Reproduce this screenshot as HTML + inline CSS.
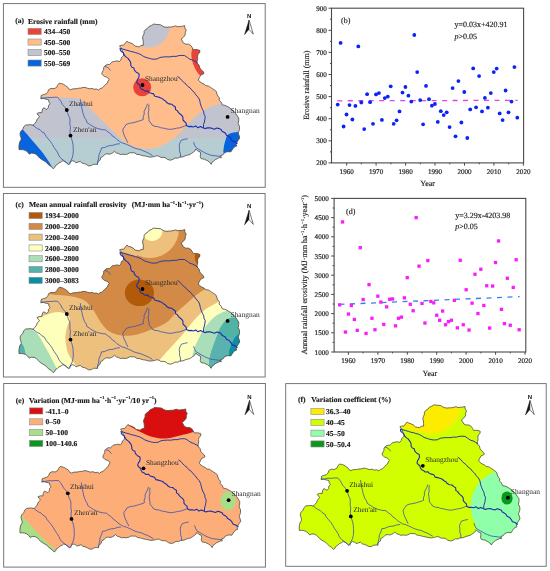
<!DOCTYPE html>
<html lang="en"><head><meta charset="utf-8"><title>Rainfall erosivity figure</title>
<style>
html,body{margin:0;padding:0;background:#fff}
svg{display:block}
text{font-family:"Liberation Serif","Times New Roman",serif;fill:#1a1a1a;text-rendering:geometricPrecision}
.city{font-size:7.4px;fill:#2a2a2a}
.leg{font-size:7.5px;font-weight:bold;stroke:#1a1a1a;stroke-width:0.15px}
.ttl{font-size:7.55px;font-weight:bold;stroke:#1a1a1a;stroke-width:0.15px}
.sup{font-size:4.5px}
.tk{font-size:7.1px;stroke:#1a1a1a;stroke-width:0.18px}
.ax{font-size:8px;stroke:#1a1a1a;stroke-width:0.15px}
.nn{font-family:"Liberation Sans",Arial,sans-serif;font-size:6px;font-weight:bold;fill:#111}
</style></head><body>
<svg width="550" height="571" viewBox="0 0 550 571">
<defs><path id="ol" d="M19.1 149.7 L18.9 147.2 L19.1 144.7 L19.7 142 L21.2 139.6 L21 137.5 L20.3 135.4 L20 133.4 L20.8 131.5 L22.7 129.4 L23.3 128 L23.9 126.6 L25.6 125 L28 124.9 L30.5 124.6 L32.9 125.4 L34.6 123.6 L36.2 121.7 L37.3 118.9 L39.5 116.8 L38.2 115.2 L37 113.5 L39.4 112.5 L41.9 112.7 L42.2 110.1 L43.5 107.8 L45.2 108.6 L46.8 109.5 L48.3 107.8 L48.5 105.4 L50.1 103.7 L48.9 101.8 L48.5 99.6 L46 99.2 L43.4 98.4 L40.8 98.8 L41.1 97.2 L41.1 95.5 L43.5 94.6 L46 93.9 L47.8 92.2 L48.5 89.8 L51 88.4 L54 88.7 L56.6 87.4 L57.6 85.2 L59.1 83.3 L61.4 83.6 L63.6 84.4 L65.6 85.7 L67.4 86.9 L68.6 88.8 L70.5 89.8 L73.1 88.8 L76 88.8 L78.7 88.2 L80.8 88.1 L82.9 87.5 L85 87.4 L87.2 88.2 L89.5 88.8 L91.9 88.4 L94.1 89.3 L96.4 89 L98.6 90 L100 88.7 L101.8 88.2 L103.3 87 L104.5 85.5 L105.8 84.3 L107.3 83.2 L108 81.2 L109.1 79.5 L107.7 77.7 L106.1 76.9 L104.5 76.4 L103.1 75.3 L101.8 74.1 L102.2 72.2 L103.2 70.5 L103.8 69 L103.6 67.3 L104.9 66.3 L105.9 65 L107.7 64.4 L109.5 64.5 L111 63.2 L112.3 61.8 L114.6 61.4 L116.8 60.9 L119.5 61.5 L120.9 59.8 L121.4 57.7 L123.2 56.2 L124.5 54.3 L123 52.4 L122 50.2 L121.3 47.8 L119.5 46.1 L121.4 45.2 L123.6 45.3 L125.2 43.2 L126.9 41.2 L128.4 42.3 L130.2 42.8 L132.9 44 L135.1 46.1 L137.2 46.5 L139.2 46.9 L141 45.5 L143.3 45.3 L143.3 42.8 L143.1 40.3 L142.5 37.9 L143.1 35.8 L144.1 33.7 L144.1 31.4 L145.5 29.6 L147.6 28.3 L149 26.5 L151.5 25.4 L153.9 24 L156.1 24.4 L158.3 24.5 L160.5 24.8 L162.5 26.1 L164.6 27 L167 27.3 L169.2 27 L171.4 27 L173.5 26.5 L175.7 25.9 L177.9 26.8 L180.1 26.5 L182.4 26.3 L184.7 25.6 L184.8 28 L186.2 30 L185.3 32.4 L185.2 35 L183.4 37.3 L181.1 39.1 L182.4 41.1 L183.5 43.2 L185.9 44.2 L188.6 44.2 L190.9 45.6 L192.2 47.6 L193.4 49.7 L195.6 49.5 L197.8 49.7 L199.9 50.5 L199.7 52.7 L198 54.2 L197.5 56.3 L197.7 58.5 L197.3 60.7 L196.6 62.8 L198 63.9 L199.1 65.3 L199.8 68 L201.5 70.2 L203.2 71.5 L204 73.5 L202.4 74.4 L200.7 75.1 L199.4 77.5 L198.3 80 L199.9 81.8 L201.8 83.1 L204 84.1 L205.9 85.7 L208.5 86 L210.5 87.4 L212.5 88.7 L214.5 90 L216.3 91.5 L216.9 93.9 L217.9 96.1 L219.5 98 L219.1 100 L221.2 102.2 L222.4 104.9 L224.7 105.3 L226.9 106.2 L228.9 107.4 L231.3 109 L233.3 111.2 L235.5 113.1 L237 115.6 L238.7 118 L238.7 120.8 L238.1 123.6 L239.5 126.3 L239.5 129.4 L238.9 131.2 L238.1 133 L239.1 135.5 L239.7 138.1 L238.2 140.2 L236.8 142.5 L236.1 144.3 L236.6 146.1 L235 146.6 L233.7 147.6 L232.2 149.7 L230.8 151.9 L228.6 151.7 L226.4 151.9 L224.3 152.9 L222.9 154.9 L220.6 155.6 L221.3 157.7 L219.4 157.6 L217.7 158.5 L215.3 159.6 L213.3 161.4 L211.8 162.5 L211.2 164.3 L209.6 162.2 L207.5 160.7 L206 160.1 L204.6 159.2 L202.8 159 L201 158.5 L200.2 156.4 L200.7 154.1 L200.2 151.9 L197.7 151 L195.9 149 L194.9 150.9 L193.3 152.2 L191.5 153.4 L189.7 154.6 L187.7 155.1 L185.7 155.6 L182.9 156.9 L179.9 157 L177.6 158.2 L175 158 L172.8 159.5 L170.2 160.2 L167.5 159.4 L165.3 157.7 L163.1 157.4 L160.7 157.3 L158.7 156.1 L156.5 155.8 L154.3 156.5 L152.2 156.9 L149.9 157.1 L147.8 156.7 L145.6 156.1 L143.4 155.8 L141.2 155.2 L139.1 154.5 L136.8 154.4 L134.8 152.9 L132.5 152.8 L129.9 152.7 L127.6 154 L125.2 154.5 L123 154.2 L120.7 154.5 L118.6 153.6 L116.3 152.9 L114.5 151.2 L113 152.6 L111.3 153.6 L109.1 154.2 L106.8 153.7 L104.7 154.5 L102.9 156.5 L100.6 157.7 L100.1 160.2 L97.9 161.8 L97.4 164.3 L95.5 164.3 L93.5 164.3 L91.4 165.6 L88.9 165.9 L86.7 164.7 L84.5 163.6 L82 163.1 L80.2 161.4 L78 162.1 L75.8 162.8 L74.3 161.2 L72.2 160.7 L70 162.2 L68.5 164.5 L66.9 162.7 L64.9 161.4 L62.7 160.7 L61.1 162 L59.1 162.8 L57.4 164.4 L55.4 165.7 L54.7 167.5 L53.2 168.7 L51.3 166.6 L48.9 165 L47.2 163.5 L45.8 161.8 L43.8 160.7 L41.7 159.4 L39.7 158.1 L38 156.3 L36.4 154.5 L34.3 153.4 L31.7 153.1 L29.2 154.1 L27.7 152 L25.6 150.5 L23.5 149.8 L21.3 149.5Z"/><clipPath id="oc"><use href="#ol"/></clipPath><g id="rv" fill="none" stroke-linejoin="round" stroke-linecap="round"><g stroke="#3850ae" stroke-width="0.8"><path d="M41.1 98 L44.4 98.1 L47.6 97.4 L50.9 97.5 L54.2 97.2 L57.5 97.2 L59.5 99.4 L61.1 101.8 L62.4 104.5 L64 106.2 L65.5 108 L66.8 110 L67.6 112.6 L68.3 115.2 L69.7 117.6 L70 120.9 L69.8 124.2 L70.5 127.5 L70.1 130.2 L70.1 132.9 L70.5 135.6 L71.5 138.6 L72.4 141.5 L73 144.6 L73.2 147.9 L73.3 151.2 L73 154.5 L72.2 157.9 L70.7 161 L69.7 164.3"/><path d="M80.4 99.6 L80.6 102.9 L81.3 106.2 L82.2 109.4 L82.8 112.7 L83.7 115.2 L84.6 117.7 L86.2 119.9 L86.9 122.5 L89.6 124.3 L92.2 126.1 L95.1 127.5 L97.5 128.5 L100 129.1 L102.7 129.7 L105.5 129.9 L107.8 131.8 L110.4 133.5 L112.3 135.9 L114.9 137.5 L117 139.7 L119.5 141.4 L122.2 143 L125.2 143.8 L128.1 145 L130.9 146.3 L134 147.9 L137.4 148.9 L140.8 149.7 L144 151.2 L146.9 152.3 L149.6 153.7 L152.2 155.3"/><path d="M32.9 125 L35 126.9 L37.3 128.5 L40 129.7 L41.9 131.8 L44.4 133.2 L46.1 136.3 L48.3 139 L50.6 141.7 L52.5 144.6 L54.1 147.5 L56.1 150.2 L57.8 153 L59.1 156.1 L61.1 158.5 L63.5 160.3 L65.8 162.3 L68.1 164.3"/><path d="M119.5 143.8 L116.4 144.1 L113.5 145.2 L110.4 145.5 L107.4 146.2 L104.6 147.5 L101.5 147.9 L100.9 150.2 L100 152.4 L99 154.5 L98.7 157.8 L97.9 161 L97.4 164.3"/><path d="M147.4 104 L146.5 106.6 L145.3 109 L144.1 111.4 L144.2 114.1 L143.2 116.8 L143.3 119.5 L140.9 120.5 L138.4 121.2 L135.9 122 L132.6 122.8 L129.3 123.3 L126.1 124.5 L124.5 127 L122.8 129.4 L123.3 132.7 L124.5 135.9 L125.6 138.1 L126.6 140.3 L127.7 142.5"/><path d="M149 104.8 L148.7 107.5 L148.9 110.3 L148.2 113 L148.5 115.7 L149 118.4 L149 121.2 L151 123 L152.3 125.3 L155 126.4 L157.8 126.6 L160.5 127.7 L163.8 128.2 L167 129 L170.3 129.4 L173.5 128.9 L176.6 128.2 L179.8 127.8 L182 127 L184.2 126.2 L186.4 125.4"/><path d="M180.6 157 L180.5 154.1 L179.5 151.2 L179.6 148.3 L179.2 145.4 L180 142.8 L181.3 140.3 L184.2 139.4 L187.2 138.8"/><path d="M193.7 142.5 L194.6 145.1 L195.9 147.6 L198.8 149.3 L201.7 151 L204.6 152.7 L207.4 153.9 L210.3 155 L213.3 155.6 L215.7 155.8 L218.2 156.2 L220.6 156.3"/><path d="M104.9 66.4 L108 67.5 L110.2 70.2"/></g><g stroke="#2a3a9c" stroke-width="1"><path d="M120 48.3 L122.7 49 L125.3 49.8 L128 50.5 L130.5 51.4 L133.1 51.9 L135.6 52.7 L138.2 53.4 L141.1 54.8 L143.8 56.6 L146.9 57.7 L149.3 58.4 L151.7 59 L154.2 59.2 L157.2 58.9 L159.9 57.5 L162.9 57 L166.3 56.8 L169.7 56.9 L173.1 56.3 L176 56.4 L178.9 55.6 L181.8 55.4 L184.7 55.6 L187.4 57.4 L190 59.3 L192.7 60.1 L195.1 61.4 L197.5 62.8"/><path d="M177.8 76.7 L180.1 78.3 L181.8 80.5 L183.8 82.4 L186 84.1 L187.8 86.4 L190.3 88 L192 90.4 L194.2 92.3 L195.9 94.9 L198.1 97.2 L199.6 100 L200.3 103.4 L201.3 106.7 L202.7 109.8 L203.8 111.9 L204 114.3 L205.2 116.4 L204.9 119.2 L204.4 122 L203.5 124.7 L203.5 127.5"/></g><g stroke="#1d2eaa" stroke-width="1.1"><path d="M120.2 48.5 L120.4 50.4 L121.8 51.8 L123.3 52.8 L123.6 54.6 L125 55.8 L126.2 57.1 L127.8 58.1 L128.9 59.6 L130.2 61.3 L130.8 63.3 L130.8 65.5 L132 67.2 L133.9 67.9 L134.3 69.8 L135.4 71.3 L136.8 72.6 L138.7 73.4 L139.2 75.5 L138.7 77.8 L137.3 79.8 L136.7 82.1 L137.8 83.7 L139.6 84.9 L140 87 L141.3 89 L143.3 89.8 L144.9 91.2 L147.6 90.9 L149 92.7 L151.3 93.3 L153.5 93.9 L154.9 96.3 L157.2 96.8 L159.5 97.4 L161.6 98.2 L163.4 99.7 L165.4 100.9 L167 102.8 L169.1 103.9 L171.7 104.2 L173.5 105.8 L175.4 107 L175.5 109.6 L177.4 110.8 L178.5 112.6 L180.1 114 L181.9 115.5 L183 117.4 L182.9 119.9 L184.4 121.5 L186.1 123.1 L186.4 125.4 L188.6 126.6 L191 126.4 L193.3 127 L195.8 125.9 L197.9 127.8 L200.5 126.6 L202.7 127.8 L205 128.6 L207.4 127.9 L209.7 127.8 L212.1 128.4 L214.4 129.2 L216.8 128 L219.1 128.6 L221.1 129.4 L222 131.3 L223.9 132.2 L225.5 133.3 L226.5 135.2 L228.4 136.1 L230 137.4 L231.2 139.1 L232.2 140.9 L234 141.4 L235.6 142.2 L237.1 143.4"/></g></g></defs>
<rect width="550" height="571" fill="#fff"/>
<rect x="3.4" y="3.6" width="261.8" height="183.7" fill="#fff" stroke="#707070" stroke-width="0.95"/><rect x="3.4" y="193.5" width="261.7" height="183.5" fill="#fff" stroke="#707070" stroke-width="0.95"/><rect x="3.7" y="383.5" width="261.7" height="183.6" fill="#fff" stroke="#707070" stroke-width="0.95"/><rect x="285.7" y="383.6" width="260.5" height="182.7" fill="#fff" stroke="#707070" stroke-width="0.95"/>
<g transform="translate(0 0)"><g clip-path="url(#oc)"><rect x="0" y="0" width="270" height="190" fill="#FEBD8B"/><clipPath id="agray"><path d="M30 96 C31.9 96.1 36.1 96.3 41.1 96.6 C46.1 96.9 54.2 97.4 60 97.6 C65.8 97.8 72.3 97.4 76 97.9 C79.7 98.4 79.7 99 82 100.8 C84.3 102.6 87 105.6 90 108.6 C93 111.5 96.7 115.2 100 118.5 C103.3 121.8 107.2 125.6 110 128.3 C112.8 131.1 114.8 132.8 117 135 C119.2 137.2 121.2 139.4 123.5 141.2 C125.8 143 127.6 144.4 131 145.7 C134.4 147 140 148.6 144.1 149 C148.2 149.4 151.9 149 155.5 148.2 C159.1 147.4 161.8 146.1 165.4 144.1 C169 142.1 173.5 138.6 176.8 135.9 C180.1 133.2 182.9 130 185 127.7 C187.1 125.4 187.5 124.3 189.6 122.1 C191.7 119.9 194.8 117 197.8 114.7 C200.8 112.4 204.1 110 207.6 108.2 C211.1 106.4 214.9 105.4 219 104 C223.1 102.6 229.8 100.7 232 100 L260 96 L260 190 L0 190 L0 95 Z"/></clipPath><g clip-path="url(#agray)"><rect x="0" y="80" width="270" height="70" fill="#C1C4CF"/><rect x="0" y="138.5" width="270" height="60" fill="#B6CED1"/></g><circle cx="149" cy="27" r="20.5" fill="#C1C4CF"/><circle cx="142.2" cy="87.3" r="9" fill="#EA4238"/><path d="M193.2 45.5 C193 46.2 192.1 48.2 191.8 50 C191.5 51.8 191.2 53.9 191.4 56.3 C191.7 58.7 192.3 61.8 193.3 64.5 C194.3 67.2 196 70.5 197.4 72.6 C198.8 74.7 201.2 76.3 202 77 L215 80 L215 45 Z" fill="#EA4238"/><path d="M20 126.5 C20.6 127.2 21.5 127.9 23.9 130.7 C26.3 133.4 31.4 139.3 34.5 143 C37.6 146.7 40 149.1 42.7 152.8 C45.4 156.5 49 162 50.9 165 C52.8 168 53.5 170 54 171 L0 175 L0 120 Z" fill="#0864DE"/><path d="M228.1 134.4 C229.7 133.2 233 132.4 235.5 132.2 C238 132 241.2 130.9 243 133 C244.8 135.1 246.8 141.5 246 145 C245.2 148.5 241.5 152.5 238 154 C234.5 155.5 227.2 155.1 224.8 154 C222.4 152.9 223.6 149.9 223.8 147.5 C224 145.1 225.1 141.5 225.8 139.3 C226.5 137.1 226.5 135.6 228.1 134.4Z" fill="#0864DE"/></g><use href="#ol" fill="none" stroke="#55554c" stroke-width="0.85" stroke-linejoin="round"/><use href="#rv"/><circle cx="142.5" cy="85" r="1.9" fill="#000"/><text x="144.9" y="81.3" class="city">Shangzhou</text><circle cx="66.8" cy="110" r="1.9" fill="#000"/><text x="68.9" y="106.2" class="city">Zhashui</text><circle cx="70.5" cy="135.6" r="1.9" fill="#000"/><text x="73" y="131.5" class="city">Zhen'an</text><circle cx="227.6" cy="116.9" r="1.9" fill="#000"/><text x="230.5" y="113.1" class="city">Shangnan</text></g>
<g transform="translate(0 204)"><g clip-path="url(#oc)"><rect x="0" y="0" width="270" height="190" fill="#EDC07E"/><path d="M30 86 C33.3 86.7 43 89.1 50 90.2 C57 91.3 66 91.3 71.8 92.4 C77.6 93.5 81.3 94.4 84.9 96.7 C88.5 99 91 103 93.6 106.5 C96.1 110 97.7 114 100.2 117.5 C102.8 121 105.3 125 108.9 127.3 C112.5 129.7 117.3 131.1 122 131.6 C126.7 132.1 132.2 131.6 137.3 130.5 C142.4 129.4 147.8 127 152.6 125.1 C157.3 123.2 161.9 121.8 165.8 119.1 C169.7 116.4 172.6 112.1 176 108.9 C179.4 105.7 182.8 103 186.2 100 C189.6 97 193.4 93.4 196.4 91.1 C199.4 88.8 199.7 88.5 204 86 C208.3 83.5 219 77.7 222 76 L240 10 L30 10 Z" fill="#D48A47"/><ellipse cx="139.4" cy="88.8" rx="14.6" ry="13.3" fill="#B35A08"/><circle cx="150" cy="25" r="29" fill="#EDC07E"/><path d="M110 40 L137 40 L137 52.5 L121.5 47.8 L110 47 Z" fill="#EDC07E"/><circle cx="152" cy="26.6" r="10.6" fill="#FFFFBC"/><path d="M196.5 47.5 C196.2 48.1 195.2 49.5 195 51 C194.8 52.5 194.9 54.8 195.2 56.3 C195.5 57.8 196.5 59.4 196.8 60 L215 72 L215 45 Z" fill="#B35A08"/><path d="M30 116 C31.4 115.6 34.5 115 38.4 113.7 C42.3 112.5 49.5 109.3 53.6 108.5 C57.7 107.7 60.4 107.8 63.1 108.7 C65.8 109.6 68.9 111.6 69.6 114 C70.2 116.4 67.7 120.3 67 123.3 C66.3 126.3 65.6 129.1 65.4 132 C65.2 134.9 65.5 137.8 66 140.7 C66.5 143.6 67.1 146.8 68.2 149.5 C69.3 152.2 71.3 154.8 72.5 156.7 C73.7 158.6 74.5 159.3 75.5 161 C76.5 162.7 77.8 164.7 78.5 167 C79.2 169.3 79.8 173.7 80 175 L0 175 L0 116 Z" fill="#FFFFBC"/><path d="M24 120 C25.1 120.8 28.3 122.7 30.7 124.6 C33.1 126.5 35.9 127.9 38.4 131.2 C40.9 134.5 43.6 140.1 46 144.3 C48.4 148.5 50.7 152.9 52.5 156.3 C54.3 159.8 55.6 162.4 56.9 165 C58.1 167.6 59.5 170.8 60 172 L0 175 L0 120 Z" fill="#AADEB8"/><path d="M17 141 C17.5 140.9 19.1 140.3 20 140.2 C20.9 140.1 21.9 139.8 22.6 140.6 C23.4 141.4 24 143.2 24.5 145 C25 146.8 25.5 149.7 25.6 151.5 C25.7 153.3 25.3 155.2 25.2 156 L0 160 L0 140 Z" fill="#55B2AA"/><path d="M150 168 C151.8 165.8 157.2 158.8 160.7 154.7 C164.2 150.6 167.1 147.5 170.9 143.3 C174.7 139.1 179.8 133.8 183.6 129.3 C187.4 124.8 190.4 120.3 193.8 116.5 C197.2 112.7 200.2 109.4 204 106.4 C207.8 103.4 213.2 100.9 216.7 98.7 C220.2 96.5 223.6 94.4 225 93.5 L260 90 L260 180 L150 180 Z" fill="#FFFFBC"/><path d="M191.5 170 C191.6 167.8 191.6 160.2 191.8 157.1 C192 154 192.1 153.2 192.5 151.3 C192.9 149.4 193.3 147.7 194 145.5 C194.7 143.3 195.8 140.6 196.9 138.2 C198 135.8 199.2 133.3 200.5 130.9 C201.8 128.5 203.2 126 204.9 123.6 C206.6 121.2 208.5 118.6 210.7 116.4 C212.9 114.2 215.4 112.1 218 110.5 C220.6 108.9 223.3 108 226 106.9 C228.7 105.8 232.7 104.5 234 104 L260 100 L260 180 L197 180 Z" fill="#AADEB8"/><clipPath id="cteal"><path d="M209 170 C209 168.8 208.9 165.1 209 162.9 C209.1 160.8 209 159.3 209.3 157.1 C209.6 154.9 210 152.5 210.7 149.8 C211.4 147.1 212.7 143.8 213.6 141.1 C214.5 138.4 215.4 136.2 216.3 133.8 C217.2 131.4 217.9 128.7 218.8 126.5 C219.8 124.3 220.9 122.4 222 120.7 C223.1 119 224.2 117.6 225.6 116.4 C227 115.2 228.6 114.3 230.5 113.8 C232.4 113.3 234.8 113.3 237 113.2 C239.2 113.1 242.8 113 244 113 L260 110 L260 180 L209 180 Z"/></clipPath><g clip-path="url(#cteal)"><rect x="190" y="100" width="70" height="90" fill="#4FB3A6"/><rect x="190" y="133" width="70" height="60" fill="#5AB2AE"/></g><path d="M228.6 160 C228.7 158.6 228.7 153.7 228.9 151.3 C229.1 148.9 229.1 147.4 229.6 145.5 C230.1 143.6 231 141.5 231.8 139.6 C232.7 137.7 233.6 135.4 234.7 133.8 C235.8 132.2 237 131.2 238.4 130.2 C239.8 129.1 242.2 128 243 127.5 L260 127 L260 180 L228 180 Z" fill="#0C8FA4"/></g><use href="#ol" fill="none" stroke="#55554c" stroke-width="0.85" stroke-linejoin="round"/><use href="#rv"/><circle cx="142.5" cy="85" r="1.9" fill="#000"/><text x="144.9" y="81.3" class="city">Shangzhou</text><circle cx="66.8" cy="110" r="1.9" fill="#000"/><text x="68.9" y="106.2" class="city">Zhashui</text><circle cx="70.5" cy="135.6" r="1.9" fill="#000"/><text x="73" y="131.5" class="city">Zhen'an</text><circle cx="227.6" cy="116.9" r="1.9" fill="#000"/><text x="230.5" y="113.1" class="city">Shangnan</text></g>
<g transform="translate(1 383.3)"><g clip-path="url(#oc)"><rect x="0" y="0" width="270" height="190" fill="#FDAE78"/><path d="M127 41.5 C127.4 41.8 127.5 41.9 129.5 43.1 C131.5 44.3 135.6 46.8 139 48.5 C142.4 50.2 145.8 52.1 149.9 53.2 C154 54.3 158.9 55.4 163.5 55.3 C168.1 55.2 173.1 53.5 177.2 52.6 C181.3 51.7 184.7 50.8 188.1 49.9 C191.5 49 194.8 48 197.6 47.2 C200.4 46.4 203.8 45.4 205 45 L205 10 L127 10 Z" fill="#D90E0E"/><path d="M17 128.3 L22.1 133.7 L33.7 146.1 L44.5 157.7 L54.6 166.2 L60 171 L0 175 L0 128 Z" fill="#A8DE87"/><ellipse cx="227" cy="117.7" rx="7.6" ry="9.4" fill="#A8DE87"/></g><use href="#ol" fill="none" stroke="#55554c" stroke-width="0.85" stroke-linejoin="round"/><use href="#rv"/><circle cx="142.5" cy="85" r="1.9" fill="#000"/><text x="144.9" y="81.3" class="city">Shangzhou</text><circle cx="66.8" cy="110" r="1.9" fill="#000"/><text x="68.9" y="106.2" class="city">Zhashui</text><circle cx="70.5" cy="135.6" r="1.9" fill="#000"/><text x="73" y="131.5" class="city">Zhen'an</text><circle cx="227.6" cy="116.9" r="1.9" fill="#000"/><text x="230.5" y="113.1" class="city">Shangnan</text></g>
<g transform="translate(280.3 380.8)"><g clip-path="url(#oc)"><rect x="0" y="0" width="270" height="190" fill="#D1FF00"/><path d="M115 44 C116.4 44.5 119.7 46.1 123.6 47.2 C127.5 48.3 134.1 49.7 138.2 50.6 C142.3 51.5 144.9 52.6 148.3 52.8 C151.7 53 155.3 52.8 158.5 52 C161.7 51.2 164.5 49.6 167.2 47.8 C169.9 46 172.6 43.4 174.5 41 C176.4 38.6 177.9 36 178.9 33.7 C179.9 31.4 180.2 29.3 180.5 27 C180.8 24.7 180.8 21.2 180.8 20 L110 10 Z" fill="#FCEC00"/><circle cx="226.9" cy="125.4" r="36.6" fill="#90FFA9"/><rect x="195.6" y="146" width="30" height="24" fill="#90FFA9"/><ellipse cx="226.7" cy="117.2" rx="5.6" ry="6.6" fill="#0B961C"/></g><use href="#ol" fill="none" stroke="#55554c" stroke-width="0.85" stroke-linejoin="round"/><use href="#rv"/><circle cx="142.5" cy="85" r="1.9" fill="#000"/><text x="144.9" y="81.3" class="city">Shangzhou</text><circle cx="66.8" cy="110" r="1.9" fill="#000"/><text x="68.9" y="106.2" class="city">Zhashui</text><circle cx="70.5" cy="135.6" r="1.9" fill="#000"/><text x="73" y="131.5" class="city">Zhen'an</text><circle cx="227.6" cy="116.9" r="1.9" fill="#000"/><text x="230.5" y="113.1" class="city">Shangnan</text></g>
<g transform="translate(249.1 20)"><text x="0" y="-1.8" class="nn" text-anchor="middle">N</text><path d="M0 0 L-4.5 14.5 L-0.2 9.2 Z" fill="#111" stroke="#111" stroke-width="0.5" stroke-linejoin="miter"/><path d="M0 0 L4.2 14.2 L-0.2 9.2" fill="none" stroke="#222" stroke-width="0.6" stroke-linejoin="miter"/></g><g transform="translate(249.1 210.2)"><text x="0" y="-1.8" class="nn" text-anchor="middle">N</text><path d="M0 0 L-4.5 14.5 L-0.2 9.2 Z" fill="#111" stroke="#111" stroke-width="0.5" stroke-linejoin="miter"/><path d="M0 0 L4.2 14.2 L-0.2 9.2" fill="none" stroke="#222" stroke-width="0.6" stroke-linejoin="miter"/></g><g transform="translate(249.5 400.3)"><text x="0" y="-1.8" class="nn" text-anchor="middle">N</text><path d="M0 0 L-4.5 14.5 L-0.2 9.2 Z" fill="#111" stroke="#111" stroke-width="0.5" stroke-linejoin="miter"/><path d="M0 0 L4.2 14.2 L-0.2 9.2" fill="none" stroke="#222" stroke-width="0.6" stroke-linejoin="miter"/></g><g transform="translate(530 400.4)"><text x="0" y="-1.8" class="nn" text-anchor="middle">N</text><path d="M0 0 L-4.5 14.5 L-0.2 9.2 Z" fill="#111" stroke="#111" stroke-width="0.5" stroke-linejoin="miter"/><path d="M0 0 L4.2 14.2 L-0.2 9.2" fill="none" stroke="#222" stroke-width="0.6" stroke-linejoin="miter"/></g>
<text x="15.3" y="22.5" class="ttl">(a)</text><text x="28" y="23.8" class="ttl">Erosive rainfall (mm)</text><rect x="28" y="28.4" width="13.2" height="6.1" fill="#EA4238" stroke="#8c8c8c" stroke-width="0.6"/><text x="43.9" y="34.1" class="leg">434–450</text><rect x="28" y="39" width="13.2" height="6.1" fill="#FEBD8B" stroke="#8c8c8c" stroke-width="0.6"/><text x="43.9" y="44.7" class="leg">450–500</text><rect x="28" y="49.5" width="13.2" height="6.1" fill="#C1C4CF" stroke="#8c8c8c" stroke-width="0.6"/><text x="43.9" y="55.2" class="leg">500–550</text><rect x="28" y="60" width="13.2" height="6.1" fill="#0864DE" stroke="#8c8c8c" stroke-width="0.6"/><text x="43.9" y="65.8" class="leg">550–569</text><text x="15.4" y="206.9" class="ttl">(c)</text><text x="29" y="206.9" class="ttl">Mean annual rainfall erosivity<tspan dx="5">(MJ·mm ha</tspan><tspan class="sup" dy="-3.1">−1</tspan><tspan dy="3.1">·h</tspan><tspan class="sup" dy="-3.1">−1</tspan><tspan dy="3.1">·yr</tspan><tspan class="sup" dy="-3.1">−1</tspan><tspan dy="3.1">)</tspan></text><rect x="29" y="212.5" width="13.2" height="6.1" fill="#B35A08" stroke="#8c8c8c" stroke-width="0.6"/><text x="45" y="218.2" class="leg">1934–2000</text><rect x="29" y="223.3" width="13.2" height="6.1" fill="#D48A47" stroke="#8c8c8c" stroke-width="0.6"/><text x="45" y="229" class="leg">2000–2200</text><rect x="29" y="234.1" width="13.2" height="6.1" fill="#EDC07E" stroke="#8c8c8c" stroke-width="0.6"/><text x="45" y="239.8" class="leg">2200–2400</text><rect x="29" y="244.9" width="13.2" height="6.1" fill="#FFFFBC" stroke="#8c8c8c" stroke-width="0.6"/><text x="45" y="250.6" class="leg">2400–2600</text><rect x="29" y="255.7" width="13.2" height="6.1" fill="#AADEB8" stroke="#8c8c8c" stroke-width="0.6"/><text x="45" y="261.4" class="leg">2600–2800</text><rect x="29" y="266.5" width="13.2" height="6.1" fill="#55B2AA" stroke="#8c8c8c" stroke-width="0.6"/><text x="45" y="272.2" class="leg">2800–3000</text><rect x="29" y="277.3" width="13.2" height="6.1" fill="#0C8FA4" stroke="#8c8c8c" stroke-width="0.6"/><text x="45" y="283" class="leg">3000–3083</text><text x="15.8" y="402.5" class="ttl">(e)</text><text x="29.1" y="402.5" class="ttl">Variation (MJ·mm ha<tspan class="sup" dy="-3.1">−1</tspan><tspan dy="3.1">·h</tspan><tspan class="sup" dy="-3.1">−1</tspan><tspan dy="3.1">·yr</tspan><tspan class="sup" dy="-3.1">−1</tspan><tspan dy="3.1">/10 yr</tspan><tspan class="sup" dy="-3.1">−1</tspan><tspan dy="3.1">)</tspan></text><rect x="29.6" y="407.9" width="13.2" height="6.1" fill="#D90E0E" stroke="#8c8c8c" stroke-width="0.6"/><text x="45.4" y="413.6" class="leg">-41.1–0</text><rect x="29.6" y="418.8" width="13.2" height="6.1" fill="#FDAE78" stroke="#8c8c8c" stroke-width="0.6"/><text x="45.4" y="424.4" class="leg">0–50</text><rect x="29.6" y="429.6" width="13.2" height="6.1" fill="#A8DE87" stroke="#8c8c8c" stroke-width="0.6"/><text x="45.4" y="435.3" class="leg">50–100</text><rect x="29.6" y="440.4" width="13.2" height="6.1" fill="#0B961C" stroke="#8c8c8c" stroke-width="0.6"/><text x="45.4" y="446.1" class="leg">100–140.6</text><text x="298" y="402" class="ttl">(f)</text><text x="311.3" y="402" class="ttl">Variation coefficient (%)</text><rect x="310.9" y="408.5" width="13.2" height="6.1" fill="#FCEC00" stroke="#8c8c8c" stroke-width="0.6"/><text x="326" y="414.2" class="leg">36.3–40</text><rect x="310.9" y="419.3" width="13.2" height="6.1" fill="#D1FF00" stroke="#8c8c8c" stroke-width="0.6"/><text x="326" y="425" class="leg">40–45</text><rect x="310.9" y="430.1" width="13.2" height="6.1" fill="#90FFA9" stroke="#8c8c8c" stroke-width="0.6"/><text x="326" y="435.8" class="leg">45–50</text><rect x="310.9" y="440.9" width="13.2" height="6.1" fill="#0B961C" stroke="#8c8c8c" stroke-width="0.6"/><text x="326" y="446.6" class="leg">50–50.4</text>
<rect x="331.5" y="8.2" width="192.1" height="154.7" fill="none" stroke="#4a4a4a" stroke-width="1.1"/><text x="326.9" y="10.7" class="tk" text-anchor="end">900</text><text x="326.9" y="32.8" class="tk" text-anchor="end">800</text><text x="326.9" y="54.9" class="tk" text-anchor="end">700</text><text x="326.9" y="77" class="tk" text-anchor="end">600</text><text x="326.9" y="99.1" class="tk" text-anchor="end">500</text><text x="326.9" y="121.2" class="tk" text-anchor="end">400</text><text x="326.9" y="143.3" class="tk" text-anchor="end">300</text><text x="326.9" y="165.4" class="tk" text-anchor="end">200</text><text x="346.7" y="173.7" class="tk" text-anchor="middle">1960</text><text x="376.1" y="173.7" class="tk" text-anchor="middle">1970</text><text x="405.6" y="173.7" class="tk" text-anchor="middle">1980</text><text x="435" y="173.7" class="tk" text-anchor="middle">1990</text><text x="464.5" y="173.7" class="tk" text-anchor="middle">2000</text><text x="493.9" y="173.7" class="tk" text-anchor="middle">2010</text><text x="523.4" y="173.7" class="tk" text-anchor="middle">2020</text><path d="M331.5 8.2h-3M331.5 19.2h-1.5M331.5 30.3h-3M331.5 41.4h-1.5M331.5 52.4h-3M331.5 63.5h-1.5M331.5 74.5h-3M331.5 85.6h-1.5M331.5 96.6h-3M331.5 107.7h-1.5M331.5 118.7h-3M331.5 129.8h-1.5M331.5 140.8h-3M331.5 151.9h-1.5M331.5 162.9h-3M346.7 162.9v2.8M361.4 162.9v1.4M376.1 162.9v2.8M390.9 162.9v1.4M405.6 162.9v2.8M420.3 162.9v1.4M435 162.9v2.8M449.8 162.9v1.4M464.5 162.9v2.8M479.2 162.9v1.4M493.9 162.9v2.8M508.7 162.9v1.4M523.4 162.9v2.8" stroke="#3a3a3a" stroke-width="0.9" fill="none"/><text x="427.6" y="186" class="ax" text-anchor="middle">Year</text><text transform="translate(308.9 85.2) rotate(-90)" class="ax" text-anchor="middle">Erosive rainfall (mm)</text><text x="341" y="22.6" class="ax">(b)</text><text x="454.4" y="26.9" class="ax">y=0.03x+420.91</text><text x="454.4" y="38.9" class="ax"><tspan font-style="italic">p</tspan>&gt;0.05</text><path d="M337.3 100.8 L517.6 100.35" stroke="#E540EA" stroke-width="1.3" stroke-dasharray="5 5.48" fill="none"/><g fill="#0A24F5"><circle cx="337.7" cy="104.6" r="1.9"/><circle cx="340.6" cy="42.9" r="1.9"/><circle cx="343.6" cy="126.5" r="1.9"/><circle cx="346.5" cy="114.5" r="1.9"/><circle cx="349.5" cy="105.1" r="1.9"/><circle cx="352.4" cy="119.5" r="1.9"/><circle cx="355.4" cy="105.9" r="1.9"/><circle cx="358.3" cy="46.4" r="1.9"/><circle cx="361.3" cy="102.5" r="1.9"/><circle cx="364.2" cy="129.1" r="1.9"/><circle cx="367.1" cy="94.2" r="1.9"/><circle cx="370.1" cy="102.2" r="1.9"/><circle cx="373" cy="123.8" r="1.9"/><circle cx="376" cy="94.4" r="1.9"/><circle cx="378.9" cy="93.1" r="1.9"/><circle cx="381.9" cy="119.9" r="1.9"/><circle cx="384.8" cy="98.1" r="1.9"/><circle cx="387.8" cy="96.6" r="1.9"/><circle cx="390.7" cy="86.3" r="1.9"/><circle cx="393.7" cy="123.8" r="1.9"/><circle cx="396.6" cy="120.3" r="1.9"/><circle cx="399.5" cy="111.4" r="1.9"/><circle cx="402.5" cy="92.6" r="1.9"/><circle cx="405.4" cy="87" r="1.9"/><circle cx="408.4" cy="95.7" r="1.9"/><circle cx="411.3" cy="101.6" r="1.9"/><circle cx="414.3" cy="35" r="1.9"/><circle cx="417.2" cy="72.1" r="1.9"/><circle cx="420.2" cy="100.1" r="1.9"/><circle cx="423.1" cy="124.3" r="1.9"/><circle cx="426" cy="85.9" r="1.9"/><circle cx="429" cy="99.2" r="1.9"/><circle cx="431.9" cy="105.7" r="1.9"/><circle cx="434.9" cy="104" r="1.9"/><circle cx="437.8" cy="121.9" r="1.9"/><circle cx="440.8" cy="111.2" r="1.9"/><circle cx="443.7" cy="115.1" r="1.9"/><circle cx="446.7" cy="112.3" r="1.9"/><circle cx="449.6" cy="127.1" r="1.9"/><circle cx="452.6" cy="88.1" r="1.9"/><circle cx="455.5" cy="136.3" r="1.9"/><circle cx="458.4" cy="81.1" r="1.9"/><circle cx="461.4" cy="122.5" r="1.9"/><circle cx="464.3" cy="92" r="1.9"/><circle cx="467.3" cy="138" r="1.9"/><circle cx="470.2" cy="109.4" r="1.9"/><circle cx="473.2" cy="68.4" r="1.9"/><circle cx="476.1" cy="107.3" r="1.9"/><circle cx="479.1" cy="76.1" r="1.9"/><circle cx="482" cy="111.4" r="1.9"/><circle cx="484.9" cy="97.9" r="1.9"/><circle cx="487.9" cy="107.7" r="1.9"/><circle cx="490.8" cy="93.1" r="1.9"/><circle cx="493.8" cy="72.1" r="1.9"/><circle cx="496.7" cy="68.6" r="1.9"/><circle cx="499.7" cy="113.4" r="1.9"/><circle cx="502.6" cy="120.1" r="1.9"/><circle cx="505.6" cy="90.5" r="1.9"/><circle cx="508.5" cy="112.3" r="1.9"/><circle cx="511.5" cy="101.6" r="1.9"/><circle cx="514.4" cy="67.1" r="1.9"/><circle cx="517.3" cy="117.7" r="1.9"/></g>
<rect x="334.1" y="198.4" width="191.7" height="153.6" fill="none" stroke="#4a4a4a" stroke-width="1.1"/><text x="328.8" y="200.9" class="tk" text-anchor="end">5000</text><text x="328.8" y="220.1" class="tk" text-anchor="end">4500</text><text x="328.8" y="239.3" class="tk" text-anchor="end">4000</text><text x="328.8" y="258.5" class="tk" text-anchor="end">3500</text><text x="328.8" y="277.7" class="tk" text-anchor="end">3000</text><text x="328.8" y="296.9" class="tk" text-anchor="end">2500</text><text x="328.8" y="316.1" class="tk" text-anchor="end">2000</text><text x="328.8" y="335.3" class="tk" text-anchor="end">1500</text><text x="328.8" y="354.5" class="tk" text-anchor="end">1000</text><text x="348.4" y="362.5" class="tk" text-anchor="middle">1960</text><text x="377.9" y="362.5" class="tk" text-anchor="middle">1970</text><text x="407.3" y="362.5" class="tk" text-anchor="middle">1980</text><text x="436.7" y="362.5" class="tk" text-anchor="middle">1990</text><text x="466.1" y="362.5" class="tk" text-anchor="middle">2000</text><text x="495.6" y="362.5" class="tk" text-anchor="middle">2010</text><text x="525" y="362.5" class="tk" text-anchor="middle">2020</text><path d="M334.1 198.4h-3M334.1 208h-1.5M334.1 217.6h-3M334.1 227.2h-1.5M334.1 236.8h-3M334.1 246.4h-1.5M334.1 256h-3M334.1 265.6h-1.5M334.1 275.2h-3M334.1 284.8h-1.5M334.1 294.4h-3M334.1 304h-1.5M334.1 313.6h-3M334.1 323.2h-1.5M334.1 332.8h-3M334.1 342.4h-1.5M334.1 352h-3M348.4 352v2.8M363.1 352v1.4M377.9 352v2.8M392.6 352v1.4M407.3 352v2.8M422 352v1.4M436.7 352v2.8M451.4 352v1.4M466.1 352v2.8M480.9 352v1.4M495.6 352v2.8M510.3 352v1.4M525 352v2.8" stroke="#3a3a3a" stroke-width="0.9" fill="none"/><text x="429.9" y="375.5" class="ax" text-anchor="middle">Year</text><text transform="translate(307.4 274.8) rotate(-90)" class="ax" style="font-size:8.07px" text-anchor="middle">Annual rainfall erosivity (MJ·mm ha<tspan class="sup" dy="-3.1">−1</tspan><tspan dy="3.1">·h</tspan><tspan class="sup" dy="-3.1">−1</tspan><tspan dy="3.1">·year</tspan><tspan class="sup" dy="-3.1">−1</tspan><tspan dy="3.1">)</tspan></text><text x="346" y="214.4" class="ax">(d)</text><text x="455.2" y="217.5" class="ax">y=3.29x-4203.98</text><text x="455.2" y="229.2" class="ax"><tspan font-style="italic">p</tspan>&gt;0.05</text><path d="M339.5 304.4 L519.6 296.6" stroke="#3580EE" stroke-width="1.3" stroke-dasharray="5 5.51" fill="none"/><g fill="#FB1CFB"><rect x="338" y="303.2" width="3.3" height="3.3"/><rect x="340.9" y="220.3" width="3.3" height="3.3"/><rect x="343.8" y="330.4" width="3.3" height="3.3"/><rect x="346.8" y="312.4" width="3.3" height="3.3"/><rect x="349.7" y="303.8" width="3.3" height="3.3"/><rect x="352.7" y="317.8" width="3.3" height="3.3"/><rect x="355.6" y="328.7" width="3.3" height="3.3"/><rect x="358.6" y="246" width="3.3" height="3.3"/><rect x="361.5" y="297.9" width="3.3" height="3.3"/><rect x="364.4" y="331.8" width="3.3" height="3.3"/><rect x="367.4" y="283" width="3.3" height="3.3"/><rect x="370.3" y="316.6" width="3.3" height="3.3"/><rect x="373.3" y="328.1" width="3.3" height="3.3"/><rect x="376.2" y="294.5" width="3.3" height="3.3"/><rect x="379.2" y="300.4" width="3.3" height="3.3"/><rect x="382.1" y="322.8" width="3.3" height="3.3"/><rect x="385" y="305.2" width="3.3" height="3.3"/><rect x="388" y="297.6" width="3.3" height="3.3"/><rect x="390.9" y="297.3" width="3.3" height="3.3"/><rect x="393.9" y="324.2" width="3.3" height="3.3"/><rect x="396.8" y="316.6" width="3.3" height="3.3"/><rect x="399.8" y="315.5" width="3.3" height="3.3"/><rect x="402.7" y="296.2" width="3.3" height="3.3"/><rect x="405.6" y="276" width="3.3" height="3.3"/><rect x="408.6" y="302.6" width="3.3" height="3.3"/><rect x="411.5" y="309.1" width="3.3" height="3.3"/><rect x="414.5" y="216" width="3.3" height="3.3"/><rect x="417.4" y="264.5" width="3.3" height="3.3"/><rect x="420.4" y="301.8" width="3.3" height="3.3"/><rect x="423.3" y="321.4" width="3.3" height="3.3"/><rect x="426.2" y="258.9" width="3.3" height="3.3"/><rect x="429.2" y="299.8" width="3.3" height="3.3"/><rect x="432.1" y="301.2" width="3.3" height="3.3"/><rect x="435.1" y="313.6" width="3.3" height="3.3"/><rect x="438" y="318.6" width="3.3" height="3.3"/><rect x="441" y="309.4" width="3.3" height="3.3"/><rect x="443.9" y="323.1" width="3.3" height="3.3"/><rect x="446.8" y="320" width="3.3" height="3.3"/><rect x="449.8" y="318.6" width="3.3" height="3.3"/><rect x="452.7" y="298.7" width="3.3" height="3.3"/><rect x="455.7" y="326.2" width="3.3" height="3.3"/><rect x="458.6" y="258.6" width="3.3" height="3.3"/><rect x="461.6" y="323.1" width="3.3" height="3.3"/><rect x="464.5" y="288.1" width="3.3" height="3.3"/><rect x="467.4" y="328.4" width="3.3" height="3.3"/><rect x="470.4" y="301.5" width="3.3" height="3.3"/><rect x="473.3" y="272.6" width="3.3" height="3.3"/><rect x="476.3" y="311.9" width="3.3" height="3.3"/><rect x="479.2" y="267.6" width="3.3" height="3.3"/><rect x="482.2" y="303.8" width="3.3" height="3.3"/><rect x="485.1" y="284.1" width="3.3" height="3.3"/><rect x="488" y="326.4" width="3.3" height="3.3"/><rect x="491" y="284.4" width="3.3" height="3.3"/><rect x="493.9" y="260.9" width="3.3" height="3.3"/><rect x="496.9" y="239.3" width="3.3" height="3.3"/><rect x="499.8" y="307.7" width="3.3" height="3.3"/><rect x="502.8" y="322" width="3.3" height="3.3"/><rect x="505.7" y="276.6" width="3.3" height="3.3"/><rect x="508.6" y="323.6" width="3.3" height="3.3"/><rect x="511.6" y="285.8" width="3.3" height="3.3"/><rect x="514.5" y="258.1" width="3.3" height="3.3"/><rect x="517.5" y="328.1" width="3.3" height="3.3"/></g>
</svg>
</body></html>
